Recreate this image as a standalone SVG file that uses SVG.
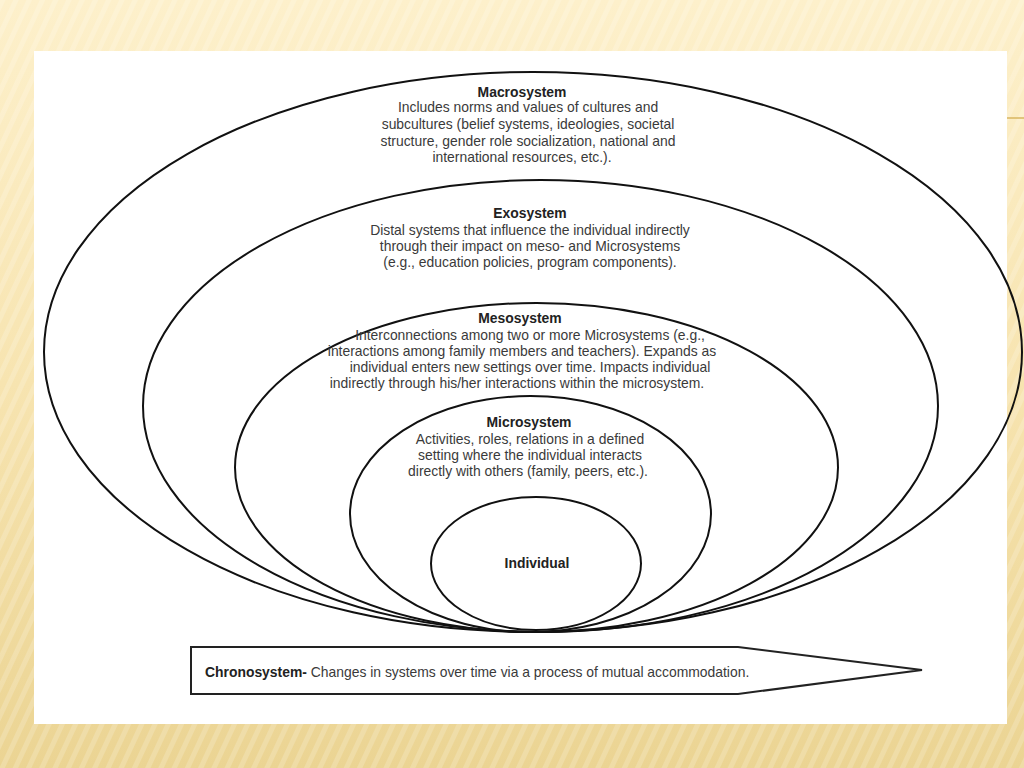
<svg xmlns="http://www.w3.org/2000/svg" width="1024" height="768" viewBox="0 0 1024 768">
<defs>
<linearGradient id="bg" x1="0" y1="0" x2="0" y2="1">
<stop offset="0" stop-color="#fdf0cb"/>
<stop offset="0.5" stop-color="#f7e4b0"/>
<stop offset="1" stop-color="#ebd493"/>
</linearGradient>
<pattern id="stripes" width="12" height="12" patternUnits="userSpaceOnUse" patternTransform="rotate(25)">
<rect width="5" height="12" fill="#ffffff" opacity="0.18"/>
</pattern>
<style>
.ring{fill:none;stroke:#111;stroke-width:2}
.t{font-family:"Liberation Sans",Arial,sans-serif;font-size:13.9px;fill:#3a3a3a;text-anchor:middle}
.b{font-weight:bold;fill:#222}
</style>
</defs>
<rect width="1024" height="768" fill="url(#bg)"/>
<rect width="1024" height="768" fill="url(#stripes)"/>
<line x1="1007" y1="118" x2="1024" y2="118" stroke="#d9b660" stroke-width="1.5"/>
<rect x="34" y="51" width="973" height="673" fill="#ffffff"/>
<g id="macrosystem">
<ellipse class="ring" cx="533" cy="352" rx="489" ry="280"/>
<text class="t b" x="522" y="97">Macrosystem</text>
<text class="t" x="528" y="112">Includes norms and values of cultures and</text>
<text class="t" x="528" y="129">subcultures (belief systems, ideologies, societal</text>
<text class="t" x="528" y="146">structure, gender role socialization, national and</text>
<text class="t" x="522" y="162">international resources, etc.).</text>
</g>
<g id="exosystem">
<ellipse class="ring" cx="540.5" cy="406" rx="397.5" ry="226"/>
<text class="t b" x="530" y="218">Exosystem</text>
<text class="t" x="530" y="235">Distal systems that influence the individual indirectly</text>
<text class="t" x="530" y="251">through their impact on meso- and Microsystems</text>
<text class="t" x="530" y="267">(e.g., education policies, program components).</text>
</g>
<g id="mesosystem">
<ellipse class="ring" cx="536.5" cy="467.5" rx="301.5" ry="164.5"/>
<text class="t b" x="520" y="323">Mesosystem</text>
<text class="t" x="530" y="340">Interconnections among two or more Microsystems (e.g.,</text>
<text class="t" x="522" y="356">interactions among family members and teachers). Expands as</text>
<text class="t" x="530" y="372">individual enters new settings over time. Impacts individual</text>
<text class="t" x="517" y="388">indirectly through his/her interactions within the microsystem.</text>
</g>
<g id="microsystem">
<ellipse class="ring" cx="530.5" cy="514" rx="180.5" ry="118"/>
<text class="t b" x="529" y="427">Microsystem</text>
<text class="t" x="530" y="444">Activities, roles, relations in a defined</text>
<text class="t" x="530" y="460">setting where the individual interacts</text>
<text class="t" x="528" y="476">directly with others (family, peers, etc.).</text>
</g>
<g id="individual">
<ellipse class="ring" cx="536" cy="563.5" rx="105" ry="66.5"/>
<text class="t b" x="537" y="568">Individual</text>
</g>
<g id="chronosystem">
<polygon points="191,647 738,647 922,670 738,694 191,694" fill="#fff" stroke="#222" stroke-width="2"/>
<text class="t" x="205" y="677" style="text-anchor:start"><tspan class="b">Chronosystem-</tspan> Changes in systems over time via a process of mutual accommodation.</text>
</g>
</svg>
